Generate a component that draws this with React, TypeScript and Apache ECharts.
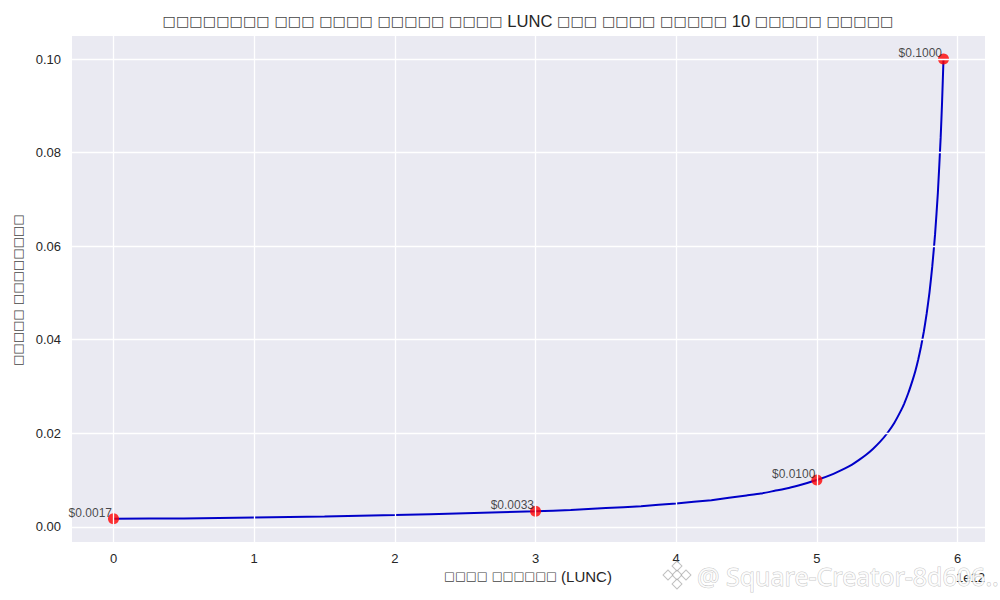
import React, { useEffect, useRef } from "react";
import * as echarts from "echarts";

// Burned supply (units of 1e12 LUNC) and resulting price (USD)
const burnedSupply = [
  0, 0.5, 1, 1.5, 2, 2.5, 3, 3.25, 3.5, 3.75, 4, 4.25, 4.5, 4.6, 4.7, 4.8, 4.9, 5, 5.1, 5.2, 5.25, 5.3, 5.35,
  5.4, 5.45, 5.5, 5.55, 5.6, 5.62, 5.65, 5.68, 5.7, 5.72, 5.74, 5.76, 5.78, 5.8, 5.82, 5.84, 5.86, 5.88, 5.89, 5.9,
];
const priceUsd = [
  0.0017, 0.0018, 0.002, 0.0022, 0.0025, 0.0029, 0.0033, 0.0036, 0.004, 0.0044, 0.005, 0.0057, 0.0067, 0.0071,
  0.0077, 0.0083, 0.0091, 0.01, 0.0111, 0.0125, 0.0133, 0.0143, 0.0154, 0.0167, 0.0182, 0.02, 0.0222, 0.025,
  0.0263, 0.0286, 0.0313, 0.0333, 0.0357, 0.0385, 0.0417, 0.0455, 0.05, 0.0556, 0.0625, 0.0714, 0.0833, 0.0909, 0.1,
];

// Highlighted milestones
const milestoneSupply = [0, 3, 5, 5.9];
const milestonePrice = [0.0017, 0.0033, 0.01, 0.1];
const milestoneLabels = ["$0.0017", "$0.0033", "$0.0100", "$0.1000"];

// Ticks
const xTicks = [0, 1, 2, 3, 4, 5, 6];
const yTicks = [0, 0.02, 0.04, 0.06, 0.08, 0.1];
const xOffsetLabel = "1e12";

// Texts (the source glyphs render as missing-glyph boxes)
const tofu = (n: number) => "{t|" + "\u25A1".repeat(n) + "}";
const titleText = [tofu(8), tofu(3), tofu(4), tofu(5), tofu(4), "LUNC", tofu(3), tofu(4), tofu(5), "10", tofu(5), tofu(5)].join(" ");
const xName = [tofu(4), tofu(6), "(LUNC)"].join(" ");
const yName = [tofu(5), tofu(8)].join(" ");
const watermark = "@ Square-Creator-8d606..";

const TXT = "#262626";
const SANS = "'Liberation Sans', Arial, sans-serif";

export default function App() {
  const ref = useRef<HTMLDivElement>(null);
  useEffect(() => {
    if (!ref.current) return;
    const chart = echarts.init(ref.current, undefined, { renderer: "svg" });
    const gridLines = [
      ...xTicks.map((v) => ({ xAxis: v })),
      ...yTicks.map((v) => ({ yAxis: v })),
    ];
    const diamonds = [
      [677, 575],
      [668, 575],
      [686, 575],
      [677, 566],
      [677, 584],
    ].map(([cx, cy]) => ({
      type: "rect",
      x: cx,
      y: cy,
      rotation: Math.PI / 4,
      shape: { x: -3.5, y: -3.5, width: 7, height: 7 },
      style: { fill: "rgba(255,255,255,0.85)", stroke: "rgba(150,150,150,0.6)", lineWidth: 1 },
      z: 100,
    }));
    chart.setOption({
      animation: false,
      backgroundColor: "#ffffff",
      grid: { left: 72, right: 15, top: 36, bottom: 58, show: true, backgroundColor: "#EAEAF2", borderWidth: 0 },
      xAxis: {
        type: "value",
        min: -0.295,
        max: 6.195,
        axisLine: { show: false },
        axisTick: { show: false },
        splitLine: { show: false },
        axisLabel: {
          customValues: xTicks,
          formatter: (v: number) => String(v),
          color: TXT,
          fontSize: 13,
          fontFamily: SANS,
          margin: 10,
        },
      },
      yAxis: {
        type: "value",
        min: -0.00325,
        max: 0.10492,
        axisLine: { show: false },
        axisTick: { show: false },
        splitLine: { show: false },
        axisLabel: {
          customValues: yTicks,
          formatter: (v: number) => v.toFixed(2),
          color: TXT,
          fontSize: 13,
          fontFamily: SANS,
          margin: 11,
        },
      },
      series: [
        {
          type: "line",
          data: [],
          z: 1,
          silent: true,
          markLine: {
            silent: true,
            symbol: ["none", "none"],
            label: { show: false },
            lineStyle: { color: "#ffffff", width: 1.3, type: "solid" },
            emphasis: { disabled: true },
            data: gridLines,
          },
        },
        {
          type: "line",
          data: burnedSupply.map((x, i) => [x, priceUsd[i]]),
          showSymbol: false,
          smooth: 0.15,
          lineStyle: { color: "#0000C8", width: 2 },
          z: 2,
        },
        {
          type: "scatter",
          data: milestoneSupply.map((x, i) => [x, milestonePrice[i]]),
          symbol: "circle",
          symbolSize: 11,
          itemStyle: { color: "#FF0000" },
          z: 3,
          label: {
            show: true,
            position: [4, 5.5],
            align: "right",
            verticalAlign: "bottom",
            formatter: (p: any) => milestoneLabels[p.dataIndex],
            color: "#1a1a1a",
            fontSize: 12,
            fontFamily: SANS,
          },
        },
      ],
      graphic: [
        {
          type: "text",
          x: 528,
          y: 21,
          style: {
            text: titleText,
            align: "center",
            verticalAlign: "middle",
            fill: TXT,
            fontSize: 16.6,
            fontFamily: SANS,
            rich: { t: { fontFamily: "'DejaVu Sans'", fontSize: 14.2, fill: "#444444" } },
          },
        },
        {
          type: "text",
          x: 528,
          y: 576,
          style: {
            text: xName,
            align: "center",
            verticalAlign: "middle",
            fill: TXT,
            fontSize: 15,
            fontFamily: SANS,
            rich: { t: { fontFamily: "'DejaVu Sans'", fontSize: 11.5, fill: "#444444" } },
          },
        },
        {
          type: "text",
          x: 18,
          y: 290,
          rotation: Math.PI / 2,
          style: {
            text: yName,
            align: "center",
            verticalAlign: "middle",
            fill: TXT,
            fontSize: 15,
            fontFamily: SANS,
            rich: { t: { fontFamily: "'DejaVu Sans'", fontSize: 12, fill: "#444444" } },
          },
        },
        {
          type: "text",
          x: 985,
          y: 577,
          style: {
            text: xOffsetLabel,
            align: "right",
            verticalAlign: "middle",
            fill: TXT,
            fontSize: 13,
            fontFamily: SANS,
          },
        },
        ...diamonds,
        {
          type: "text",
          x: 697,
          y: 576,
          z: 100,
          style: {
            text: watermark,
            align: "left",
            verticalAlign: "middle",
            fill: "rgba(255,255,255,0.85)",
            stroke: "rgba(150,150,150,0.55)",
            lineWidth: 1,
            fontSize: 25,
            fontFamily: "'Noto Sans', sans-serif",
          },
        },
      ],
    });
    return () => chart.dispose();
  }, []);
  return <div ref={ref} style={{ position: "fixed", left: 0, top: 0, width: 1000, height: 600 }} />;
}
